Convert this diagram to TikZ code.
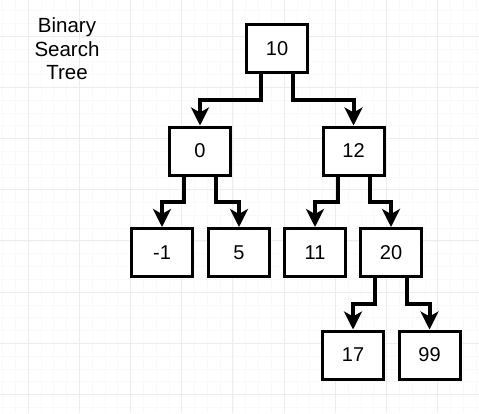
\documentclass[tikz,border=0pt]{standalone}
\usepackage{fontspec}
\setmainfont{Liberation Sans}
\usetikzlibrary{arrows.meta,calc}
\definecolor{gridmajor}{HTML}{EDEDED}
\definecolor{gridminor}{HTML}{F9F9F9}
\tikzset{
  treebox/.style={draw=black, line width=3pt, minimum width=61pt, minimum height=48pt, inner sep=0pt, font=\fontsize{20}{22}\selectfont, fill=white},
  treeedge/.style={draw=black, line width=4pt, line join=miter, -{Stealth[length=18pt,width=18pt,inset=5pt]}},
  titletext/.style={align=center, font=\fontsize{20.5}{23.5}\selectfont}
}
\begin{document}
\begin{tikzpicture}[x=1pt,y=-1pt]
\useasboundingbox (0,0) rectangle (479,413);
\fill[white] (0,0) rectangle (479,413);
% grid
\foreach \k in {0,...,37} {
  \draw[gridminor, line width=0.6pt] ({2.4+12.8*\k},0) -- ({2.4+12.8*\k},413);
}
\foreach \k in {0,...,32} {
  \draw[gridminor, line width=0.6pt] (0,{10.4+12.8*\k}) -- (479,{10.4+12.8*\k});
}
\foreach \k in {0,...,8} {
  \draw[gridmajor, line width=0.8pt] ({28+51.2*\k},0) -- ({28+51.2*\k},413);
}
\foreach \k in {0,...,7} {
  \draw[gridmajor, line width=0.8pt] (0,{36+51.2*\k}) -- (479,{36+51.2*\k});
}
% title
\node[titletext] (title) at (67,49) {Binary\\Search\\Tree};
% nodes
\node[treebox] (n10) at (277,48.5) {10};
\node[treebox] (n0) at (200,151) {0};
\node[treebox] (n12) at (353.5,151) {12};
\node[treebox] (nm1) at (162,252.5) {-1};
\node[treebox] (n5) at (239,252.5) {5};
\node[treebox] (n11) at (315,252.5) {11};
\node[treebox] (n20) at (391,252.5) {20};
\node[treebox] (n17) at (353,355) {17};
\node[treebox] (n99) at (429.5,355) {99};
% edges
\draw[treeedge] ([xshift=-16pt]n10.south) -- ++(0,25.5) -| (n0.north);
\draw[treeedge] ([xshift=16pt]n10.south) -- ++(0,25.5) -| (n12.north);
\draw[treeedge] ([xshift=-16pt]n0.south) -- ++(0,25.5) -| (nm1.north);
\draw[treeedge] ([xshift=16pt]n0.south) -- ++(0,25.5) -| (n5.north);
\draw[treeedge] ([xshift=-16pt]n12.south) -- ++(0,25.5) -| (n11.north);
\draw[treeedge] ([xshift=16pt]n12.south) -- ++(0,25.5) -| (n20.north);
\draw[treeedge] ([xshift=-16pt]n20.south) -- ++(0,25.5) -| (n17.north);
\draw[treeedge] ([xshift=16pt]n20.south) -- ++(0,25.5) -| (n99.north);
\end{tikzpicture}
\end{document}
